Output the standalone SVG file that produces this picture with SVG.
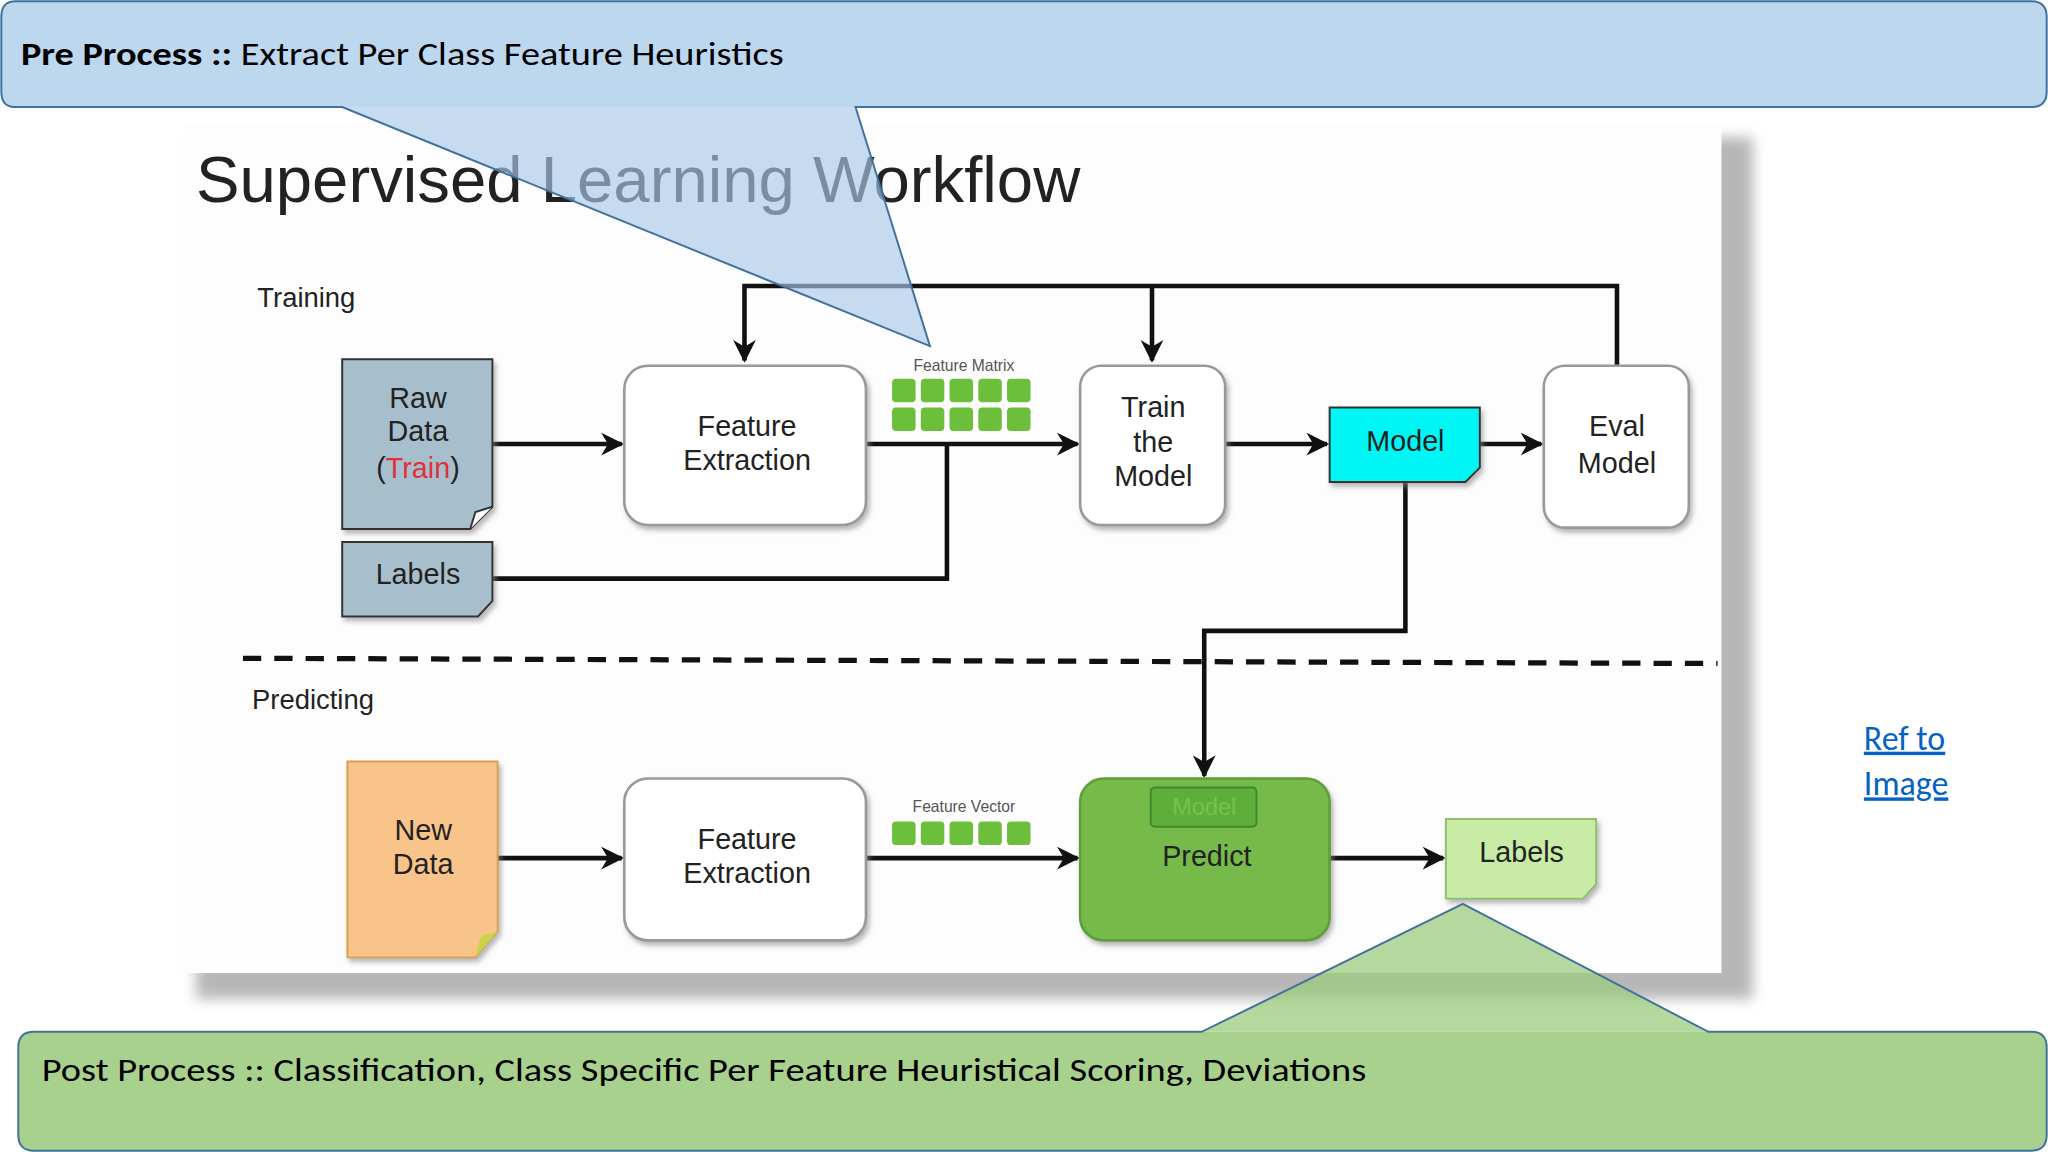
<svg xmlns="http://www.w3.org/2000/svg" width="2048" height="1152" viewBox="0 0 2048 1152">
<style>
text{font-family:"Liberation Sans",Arial,sans-serif;fill:#222}
.c{text-anchor:middle}
.box{fill:#fff;stroke:#999;stroke-width:2}
.doc{stroke:#333;stroke-width:1.5}
.ln{fill:none;stroke:#111;stroke-width:3.5}
.sq{fill:#6cbf3a}
.small{fill:#555}
.cal{font-family:Carlito,"Open Sans","Liberation Sans",sans-serif;fill:#000}
</style>
<defs>
<marker id="ah" viewBox="0 0 10 10" refX="9" refY="5" markerWidth="5" markerHeight="5" orient="auto" markerUnits="strokeWidth"><path d="M0,0 L10,5 L0,10 L3,5 z" fill="#111"/></marker>
<filter id="sh" x="-10%" y="-10%" width="130%" height="130%"><feDropShadow dx="2" dy="3" stdDeviation="2" flood-color="#888" flood-opacity="0.6"/></filter>
<filter id="bl" x="-5%" y="-5%" width="110%" height="110%"><feGaussianBlur stdDeviation="5"/></filter>
</defs>
<rect width="2048" height="1152" fill="#fff"/>
<g transform="scale(1.30612)">
<g id="picture">
<rect x="150" y="105" width="1192" height="660" fill="#999" opacity="0.7" filter="url(#bl)"/>
<rect x="140" y="95" width="1178" height="650" fill="#fdfdfd"/>
<text x="150" y="155" font-size="50">Supervised Learning Workflow</text>
<text x="197" y="235" font-size="21">Training</text>
<text x="193" y="543" font-size="21">Predicting</text>
<line x1="186" y1="504" x2="1315" y2="508" stroke="#111" stroke-width="4" stroke-dasharray="14 10"/>
</g>
<g id="connectors">
<line class="ln" x1="377" y1="340" x2="476" y2="340" marker-end="url(#ah)"/>
<line class="ln" x1="663" y1="340" x2="825" y2="340" marker-end="url(#ah)"/>
<line class="ln" x1="938" y1="340" x2="1016" y2="340" marker-end="url(#ah)"/>
<line class="ln" x1="1133" y1="340" x2="1180" y2="340" marker-end="url(#ah)"/>
<polyline class="ln" points="377,443 725,443 725,340"/>
<polyline class="ln" points="1238,280 1238,219 570,219 570,276" marker-end="url(#ah)"/>
<line class="ln" x1="882" y1="219" x2="882" y2="276" marker-end="url(#ah)"/>
<polyline class="ln" points="1076,369 1076,483 922,483 922,594" marker-end="url(#ah)"/>
<line class="ln" x1="381" y1="657" x2="476" y2="657" marker-end="url(#ah)"/>
<line class="ln" x1="663" y1="657" x2="825" y2="657" marker-end="url(#ah)"/>
<line class="ln" x1="1018" y1="657" x2="1105" y2="657" marker-end="url(#ah)"/>
</g>
<g id="rawdata">
<path class="doc" d="M262,275 H377 V388 L360,405 H262 Z" fill="#a7bfcd" filter="url(#sh)"/>
<path d="M360,405 L364,392 L377,388" fill="#fff" stroke="#333" stroke-width="1.5"/>
<text class="c" x="320" y="312" font-size="22">Raw</text>
<text class="c" x="320" y="338" font-size="22">Data</text>
<text class="c" x="320" y="366" font-size="22">(<tspan style="fill:#e0303a">Train</tspan>)</text>
</g>
<g id="labels1">
<path class="doc" d="M262,415 H377 V460 L366,472 H262 Z" fill="#a7bfcd" filter="url(#sh)"/>
<text class="c" x="320" y="447" font-size="22">Labels</text>
</g>
<g id="fe1">
<rect class="box" x="478" y="280" width="185" height="122" rx="18" filter="url(#sh)"/>
<text class="c" x="572" y="334" font-size="22">Feature</text>
<text class="c" x="572" y="360" font-size="22">Extraction</text>
</g>
<g id="fmatrix">
<text class="c small" x="738" y="284" font-size="12">Feature Matrix</text>
<g class="sq">
<rect x="683" y="290" width="18" height="18" rx="3"/><rect x="705" y="290" width="18" height="18" rx="3"/><rect x="727" y="290" width="18" height="18" rx="3"/><rect x="749" y="290" width="18" height="18" rx="3"/><rect x="771" y="290" width="18" height="18" rx="3"/>
<rect x="683" y="312" width="18" height="18" rx="3"/><rect x="705" y="312" width="18" height="18" rx="3"/><rect x="727" y="312" width="18" height="18" rx="3"/><rect x="749" y="312" width="18" height="18" rx="3"/><rect x="771" y="312" width="18" height="18" rx="3"/>
</g>
</g>
<g id="train">
<rect class="box" x="827" y="280" width="111" height="122" rx="16" filter="url(#sh)"/>
<text class="c" x="883" y="319" font-size="22">Train</text>
<text class="c" x="883" y="346" font-size="22">the</text>
<text class="c" x="883" y="372" font-size="22">Model</text>
</g>
<g id="model">
<path class="doc" d="M1018,312 H1133 V358 L1122,369 H1018 Z" fill="#00f5f5" filter="url(#sh)"/>
<text class="c" x="1076" y="345" font-size="22">Model</text>
</g>
<g id="eval">
<rect class="box" x="1182" y="280" width="111" height="124" rx="16" filter="url(#sh)"/>
<text class="c" x="1238" y="334" font-size="22">Eval</text>
<text class="c" x="1238" y="362" font-size="22">Model</text>
</g>
<g id="newdata">
<path d="M266,583 H381 V713 L364,733 H266 Z" fill="#f9c48a" stroke="#d9a050" stroke-width="1.5" filter="url(#sh)"/>
<path d="M364,733 L368,717 L381,713" fill="#c9d24a"/>
<text class="c" x="324" y="643" font-size="22">New</text>
<text class="c" x="324" y="669" font-size="22">Data</text>
</g>
<g id="fe2">
<rect class="box" x="478" y="596" width="185" height="124" rx="18" filter="url(#sh)"/>
<text class="c" x="572" y="650" font-size="22">Feature</text>
<text class="c" x="572" y="676" font-size="22">Extraction</text>
</g>
<g id="fvector">
<text class="c small" x="738" y="622" font-size="12">Feature Vector</text>
<g class="sq">
<rect x="683" y="629" width="18" height="18" rx="3"/><rect x="705" y="629" width="18" height="18" rx="3"/><rect x="727" y="629" width="18" height="18" rx="3"/><rect x="749" y="629" width="18" height="18" rx="3"/><rect x="771" y="629" width="18" height="18" rx="3"/>
</g>
</g>
<g id="predict">
<rect x="827" y="596" width="191" height="124" rx="18" fill="#76bb48" stroke="#5f9e38" stroke-width="2" filter="url(#sh)"/>
<rect x="881" y="603" width="81" height="30" rx="3" fill="#5fae3a" stroke="#3f8a2a" stroke-width="1.5"/>
<text class="c" x="922" y="624" font-size="18" style="fill:#74c24e">Model</text>
<text class="c" x="924" y="663" font-size="22">Predict</text>
</g>
<g id="labels2">
<path d="M1107,627 H1222 V677 L1212,688 H1107 Z" fill="#c8eca6" stroke="#8fbf6a" stroke-width="1.5" filter="url(#sh)"/>
<text class="c" x="1165" y="660" font-size="22">Labels</text>
</g>
<g id="ref">
<text x="1427" y="574" font-size="26" class="cal" style="fill:#0563c1" text-decoration="underline">Ref to</text>
<text x="1427" y="609" font-size="26" class="cal" style="fill:#0563c1" text-decoration="underline">Image</text>
</g>
<g id="preprocess">
<rect x="1" y="1" width="1566" height="81" rx="12" fill="#bdd7ee"/>
<path d="M262,82 L712,265 L655,82 Z" fill="#a9c9ea" fill-opacity="0.65"/>
<path d="M12,1 H1555 Q1567,1 1567,13 V70 Q1567,82 1555,82 H655 L712,265 L262,82 H12 Q1,82 1,70 V13 Q1,1 12,1 Z" fill="none" stroke="#41719c" stroke-width="1.5"/>
<text x="16" y="50" font-size="25" class="cal" textLength="584" lengthAdjust="spacingAndGlyphs"><tspan font-weight="bold">Pre Process ::</tspan> Extract Per Class Feature Heuristics</text>
</g>
<g id="postprocess">
<rect x="14" y="790" width="1553" height="91" rx="12" fill="#a9d18e"/>
<path d="M920,790 L1120,692 L1308,790 Z" fill="#9ccb7d" fill-opacity="0.75"/>
<path d="M26,790 H920 L1120,692 L1308,790 H1555 Q1567,790 1567,802 V869 Q1567,881 1555,881 H26 Q14,881 14,869 V802 Q14,790 26,790 Z" fill="none" stroke="#41719c" stroke-width="1.5"/>
<text x="32" y="828" font-size="25" class="cal" textLength="1014" lengthAdjust="spacingAndGlyphs">Post Process :: Classification, Class Specific Per Feature Heuristical Scoring, Deviations</text>
</g>
</g>
</svg>
